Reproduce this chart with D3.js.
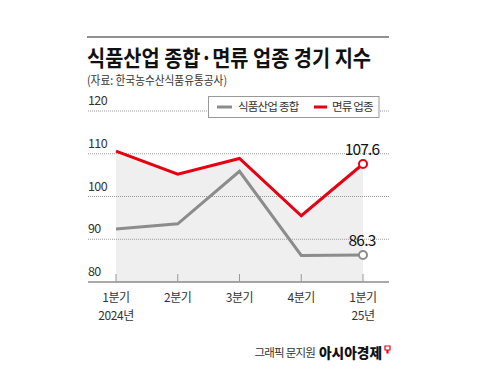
<!DOCTYPE html>
<html><head><meta charset="utf-8">
<script src="https://cdn.jsdelivr.net/npm/d3@7"></script>
<style>
body{margin:0;background:#fff;}
svg{display:block;font-family:"Noto Sans CJK KR","Noto Sans",sans-serif;}
</style></head>
<body><svg id="c" width="477" height="381"></svg>
<script>
const categories = ["1분기|2024년", "2분기", "3분기", "4분기", "1분기|25년"];
const foodTotal = [92.4, 93.6, 105.9, 86.2, 86.3];
const noodle = [110.6, 105.2, 108.9, 95.5, 107.6];
const yTicks = [80, 90, 100, 110, 120];
const seriesNames = ["식품산업 종합", "면류 업종"];

const svg = d3.select("#c");
const x = d3.scalePoint().domain(d3.range(categories.length)).range([116, 363]);
const y = d3.scaleLinear().domain([80, 120]).range([282, 111]);

// top rule
svg.append("line").attr("x1", 87).attr("x2", 389).attr("y1", 37).attr("y2", 37)
  .attr("stroke", "#222").attr("stroke-width", 1.2);
svg.append("text").attr("x", 87).attr("y", 66).attr("font-size", 22).attr("font-weight", 700)
  .attr("fill", "#111").attr("textLength", 284).attr("lengthAdjust", "spacingAndGlyphs")
  .text("식품산업 종합·면류 업종 경기 지수");
svg.append("text").attr("x", 87).attr("y", 85).attr("font-size", 12).attr("fill", "#333")
  .attr("textLength", 140).attr("lengthAdjust", "spacingAndGlyphs")
  .text("(자료: 한국농수산식품유통공사)");

// area fill under red line
const area = d3.area().x((d, i) => x(i)).y0(y(80)).y1(d => y(d));
svg.append("path").datum(noodle).attr("d", area).attr("fill", "#efefef");

// gridlines
yTicks.filter(t => t > 80).forEach(t => {
  svg.append("line").attr("x1", 88).attr("x2", 389).attr("y1", y(t)).attr("y2", y(t))
    .attr("stroke", "#9a9a9a").attr("stroke-width", 1).attr("stroke-dasharray", "1,1");
});
yTicks.forEach(t => {
  svg.append("text").attr("x", 88).attr("y", y(t) - 6).attr("font-size", 12.5)
    .attr("fill", "#333").attr("letter-spacing", -0.6).text(t);
});

// x axis
svg.append("line").attr("x1", 88).attr("x2", 389).attr("y1", y(80)).attr("y2", y(80))
  .attr("stroke", "#555").attr("stroke-width", 1.2);
categories.forEach((c, i) => {
  svg.append("line").attr("x1", x(i)).attr("x2", x(i)).attr("y1", y(80) - 8).attr("y2", y(80))
    .attr("stroke", "#999").attr("stroke-width", 1);
  const t = svg.append("text").attr("x", x(i)).attr("y", 302).attr("text-anchor", "middle")
    .attr("font-size", 12).attr("fill", "#333").attr("letter-spacing", -0.4);
  c.split("|").forEach((s, j) => {
    t.append("tspan").attr("x", x(i)).attr("dy", j === 0 ? 0 : 17.6).text(s);
  });
});

const line = d3.line().x((d, i) => x(i)).y(d => y(d));
svg.append("path").datum(foodTotal).attr("d", line).attr("fill", "none")
  .attr("stroke", "#8c8c8c").attr("stroke-width", 3).attr("stroke-linejoin", "miter");
svg.append("path").datum(noodle).attr("d", line).attr("fill", "none")
  .attr("stroke", "#e60012").attr("stroke-width", 3).attr("stroke-linejoin", "miter");

const last = categories.length - 1;
[[foodTotal, "#8c8c8c"], [noodle, "#e60012"]].forEach(([d, col]) => {
  svg.append("circle").attr("cx", x(last)).attr("cy", y(d[last])).attr("r", 4)
    .attr("fill", "#fff").attr("stroke", col).attr("stroke-width", 2);
  svg.append("text").attr("x", x(last) - 1).attr("y", y(d[last]) - 9).attr("text-anchor", "middle")
    .attr("font-size", 15.5).attr("fill", "#111").attr("letter-spacing", -0.8).text(d[last]);
});

// legend
const lg = svg.append("g");
lg.append("rect").attr("x", 208.5).attr("y", 96.5).attr("width", 170.5).attr("height", 21)
  .attr("fill", "#fff").attr("stroke", "#999").attr("stroke-width", 1);
lg.append("line").attr("x1", 217).attr("x2", 232).attr("y1", 107).attr("y2", 107)
  .attr("stroke", "#8c8c8c").attr("stroke-width", 3);
lg.append("text").attr("x", 238).attr("y", 111).attr("font-size", 11.5).attr("fill", "#333")
  .attr("letter-spacing", -0.8).text(seriesNames[0]);
lg.append("line").attr("x1", 314).attr("x2", 327).attr("y1", 107).attr("y2", 107)
  .attr("stroke", "#e60012").attr("stroke-width", 3);
lg.append("text").attr("x", 332).attr("y", 111).attr("font-size", 11.5).attr("fill", "#333")
  .attr("letter-spacing", -0.8).text(seriesNames[1]);

// credit
svg.append("text").attr("x", 315).attr("y", 357).attr("text-anchor", "end").attr("font-size", 11.5)
  .attr("fill", "#333").attr("letter-spacing", -0.8).text("그래픽 문지원");
svg.append("text").attr("x", 319).attr("y", 358).attr("font-size", 14).attr("font-weight", 900)
  .attr("fill", "#111").attr("textLength", 63).attr("lengthAdjust", "spacingAndGlyphs").text("아시아경제");
svg.append("path").attr("d", "M385,346 h5 v4 h-2 v3 h-1 v-3 h-2 z").attr("fill", "none")
  .attr("stroke", "#e60012").attr("stroke-width", 1.2);
</script></body></html>
